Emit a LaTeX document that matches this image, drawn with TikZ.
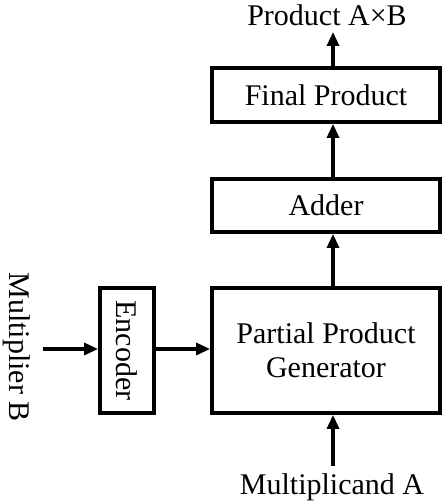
\documentclass[tikz,border=0pt]{standalone}
\usepackage{fontspec}
\setmainfont{Liberation Serif}
\usetikzlibrary{arrows.meta}
\begin{document}
\begin{tikzpicture}[x=0.5pt,y=-0.5pt,
    block/.style={draw, line width=1.9pt, inner sep=0pt},
    arr/.style={line width=1.6pt, -{Triangle[length=7pt,width=6pt]}},
    every node/.style={font=\fontsize{15}{17}\selectfont}]
  \useasboundingbox (0,0) rectangle (446,501);

  \node[block, minimum width=114pt, minimum height=27pt] (final) at (326,95) {Final Product};
  \node[block, minimum width=114pt, minimum height=26.5pt] (adder) at (326,205.5) {Adder};
  \node[block, minimum width=114pt, minimum height=62.5pt, align=center] (ppg) at (326,350.5)
    {Partial Product\\Generator};
  \node[block, minimum width=27pt, minimum height=62.5pt] (enc) at (127,350.5) {};
  \node[rotate=-90] (enctext) at (enc.center) {Encoder};

  \node[anchor=base] (out) at (327,25.5) {Product A×B};
  \node[anchor=base] (inA) at (332,494) {Multiplicand A};
  \node[rotate=-90, anchor=base] (inB) at (10,347) {Multiplier B};

  \coordinate (ax) at (333,0);
  \coordinate (bin) at (43,349);
  \coordinate (atop) at (333,32);
  \coordinate (abot) at (333,466);

  \draw[arr] (final.north -| ax) -- (atop);
  \draw[arr] (adder.north -| ax) -- (final.south -| ax);
  \draw[arr] (ppg.north -| ax) -- (adder.south -| ax);
  \draw[arr] (abot) -- (ppg.south -| ax);
  \draw[arr] (bin) -- (enc.west |- bin);
  \draw[arr] (enc.east |- bin) -- (ppg.west |- bin);
\end{tikzpicture}
\end{document}
